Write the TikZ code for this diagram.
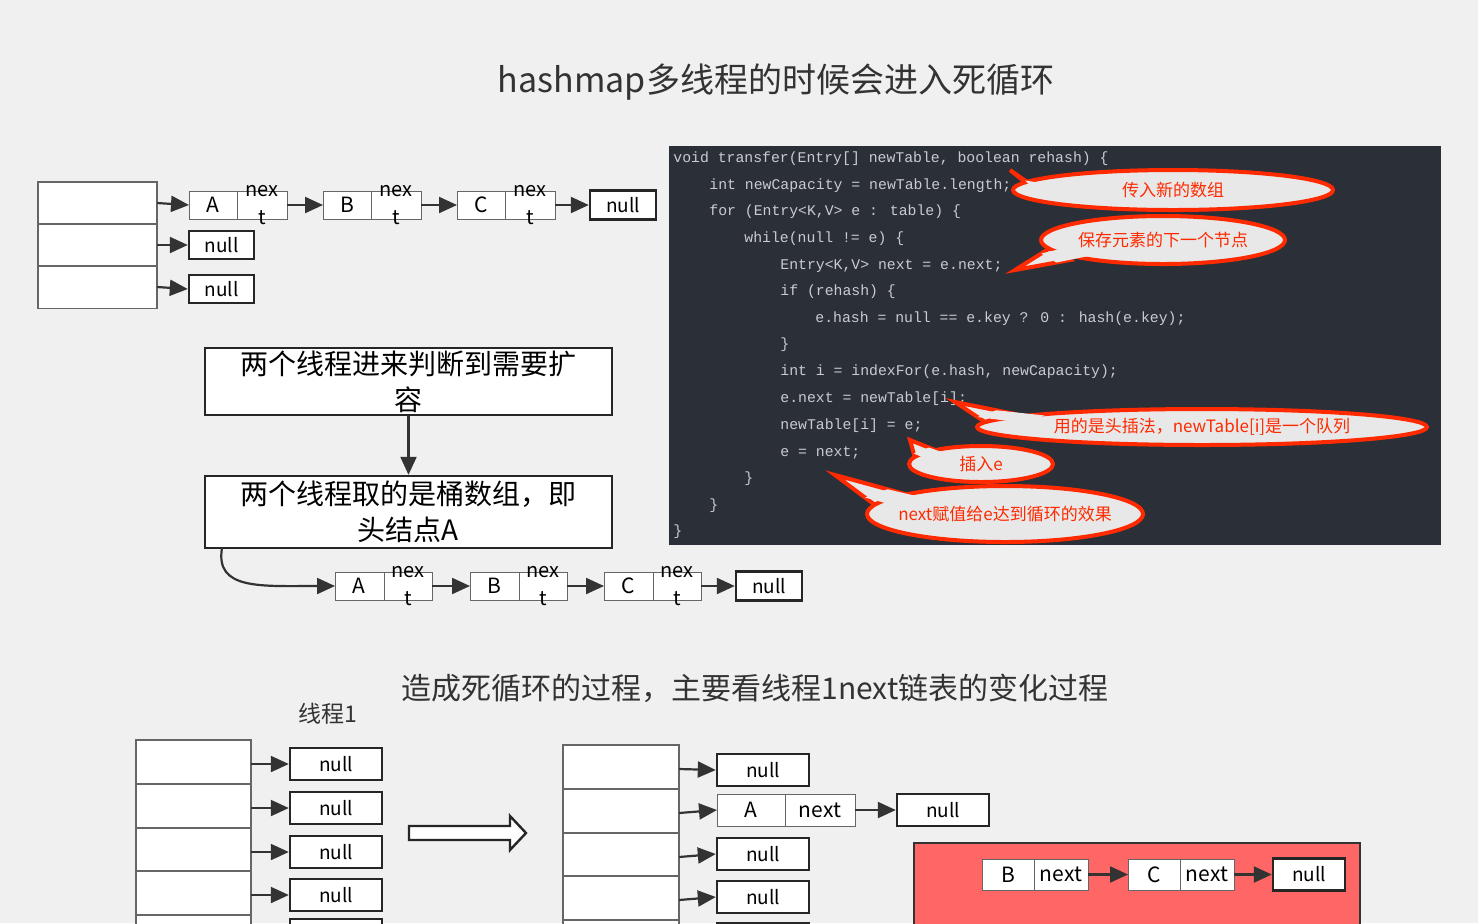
\documentclass[tikz,border=0pt]{standalone}
\usepackage{fontspec}
\setmainfont{Noto Sans CJK SC}
\newfontfamily\codefont{Liberation Mono}
\usetikzlibrary{arrows.meta,calc}
\definecolor{bg}{HTML}{F0F0F0}
\definecolor{codebg}{HTML}{2B2F38}
\definecolor{codefg}{HTML}{C9CBCF}
\definecolor{callred}{HTML}{FF2A00}
\definecolor{callfill}{HTML}{E8E8E8}
\definecolor{redbox}{HTML}{FF6666}
\newcommand\mycallout[8]{%
 \draw[callout] (#4,#5) -- (#6) -- (#7) -- cycle;
 \draw[callout] (#1) ellipse [x radius=#2,y radius=#3];
 \fill[callfill] ($(#6)!0.25!(#4,#5)$) -- ($(#6)!0.18!(#1)$) -- ($(#7)!0.18!(#1)$) -- ($(#7)!0.25!(#4,#5)$) -- cycle;
 \node[ctext] at (#1) {#8};}
\begin{document}
\begin{tikzpicture}[x=0.5pt,y=-0.5pt,
  tbl/.style={draw=gray!80!black,fill=white,line width=0.6pt},
  nullbox/.style={draw=black!85,fill=white,line width=1.2pt,font=\fontsize{9.5}{10}\selectfont,inner sep=0pt},
  ebox/.style={draw=gray!80!black,fill=white,line width=0.5pt},
  lbl/.style={font=\fontsize{10.5}{11}\selectfont,inner sep=0pt},
  arr/.style={-{Triangle[length=9pt,width=8pt]},line width=1.1pt,draw=black!80},
  code/.style={anchor=west,text=codefg,font=\codefont\fontsize{7.4}{8}\selectfont,inner sep=0pt},
  callout/.style={fill=callfill,draw=callred,line width=2pt},
  ctext/.style={text=callred,font=\fontsize{8.5}{9}\selectfont}]
\useasboundingbox (0,0) rectangle (1478,923);
\fill[bg] (0,0) rectangle (1478,923);
\node[font=\fontsize{17}{18}\selectfont,text=black!80] (title) at (776,82) {hashmap多线程的时候会进入死循环};
% top-left table
\foreach \i/\y in {1/182,2/224,3/266}{\draw[tbl] (38,\y) rectangle (157,\y+42.5); \coordinate (t\i) at (157,\y+21);}
\foreach \n/\x in {A/189,B/323,C/457}{
  \draw[ebox] (\x,191) rectangle (\x+98,219); \draw[ebox] (\x+48,191)--(\x+48,219);
  \node[lbl] (n\n) at (\x+24,205) {\n};
  \node[lbl,align=center,font=\fontsize{10}{14}\selectfont] (x\n) at (\x+73,205) {nex\\t};
  \coordinate (l\n) at (\x,205); \coordinate (r\n) at (\x+98,205);}
\node[nullbox,minimum width=33pt,minimum height=14.5pt] (null1) at (623,205) {null};
\draw[arr] (t1) -- (lA); \draw[arr] (rA)--(lB); \draw[arr] (rB)--(lC); \draw[arr] (rC)--(null1.west);
\node[nullbox,minimum width=32.5pt,minimum height=14pt] (null2) at (221.5,245) {null};
\node[nullbox,minimum width=32.5pt,minimum height=14pt] (null3) at (221.5,289) {null};
\draw[arr] (t2)--(null2.west); \draw[arr] (t3)--(null3.west);
% flow boxes
\node[draw=black!85,line width=1.2pt,fill=white,minimum width=203.5pt,minimum height=33.5pt,inner sep=0pt] (box1) at (408.5,381.5) {};
\node[font=\fontsize{14}{18}\selectfont,align=center,inner sep=0pt] (box1t) at (408.5,381.5) {两个线程进来判断到需要扩\\容};
\node[draw=black!85,line width=1.2pt,fill=white,minimum width=203.5pt,minimum height=36pt,inner sep=0pt] (box2) at (408.5,512) {};
\node[font=\fontsize{14}{18}\selectfont,align=center,inner sep=0pt] (box2t) at (408.5,512) {两个线程取的是桶数组，即\\头结点A};
\draw[arr] (box1.south) -- (box2.north);
% chain row 2
\foreach \n/\x in {A/335,B/470,C/604}{
  \draw[ebox] (\x,572) rectangle (\x+97,600); \draw[ebox] (\x+49,572)--(\x+49,600);
  \node[lbl] (m\n) at (\x+24,586) {\n};
  \node[lbl,align=center,font=\fontsize{10}{14}\selectfont] (y\n) at (\x+73,586) {nex\\t};
  \coordinate (p\n) at (\x,586); \coordinate (q\n) at (\x+97,586);}
\node[nullbox,minimum width=33pt,minimum height=14.5pt] (null4) at (769,586) {null};
\draw[arr] (222,548) .. controls (215,590) and (260,586) .. (pA);
\draw[arr] (qA)--(pB); \draw[arr] (qB)--(pC); \draw[arr] (qC)--(null4.west);
% code panel
\fill[codebg] (669,146) rectangle (1441,545);
\foreach \y/\x/\t in {159/673/{void transfer(Entry[] newTable, boolean rehash) \{},
 186/709/{int newCapacity = newTable.length;},
 212/709/{for (Entry<K,V> e : table) \{},
 239/744/{while(null != e) \{},
 266/780/{Entry<K,V> next = e.next;},
 292/780/{if (rehash) \{},
 319/815/{e.hash = null == e.key ? 0 : hash(e.key);},
 345/780/{\}},
 372/780/{int i = indexFor(e.hash, newCapacity);},
 399/780/{e.next = newTable[i];},
 426/780/{newTable[i] = e;},
 453/780/{e = next;},
 479/744/{\}},
 506/709/{\}},
 532/673/{\}}}
 {\node[code] at (\x,\y) {\t};}
\mycallout{1173,190}{160}{20}{1010}{170}{1030,184}{1045,198}{传入新的数组}
\mycallout{1163,240}{122}{24}{1015}{270}{1050,248}{1070,260}{保存元素的下一个节点}
\mycallout{1202,427}{225}{18}{955}{402}{985,422}{1010,413}{用的是头插法，newTable[i]是一个队列}
\mycallout{981,464}{72}{18}{910}{440}{915,458}{935,450}{插入e}
\mycallout{1005,514}{138}{28}{835}{475}{875,505}{905,494}{next赋值给e达到循环的效果}
% bottom
\node[font=\fontsize{15}{16}\selectfont,text=black!80] (title2) at (755,688) {造成死循环的过程，主要看线程1next链表的变化过程};
\node[font=\fontsize{11.5}{12}\selectfont,text=black!80] (thr) at (328,714) {线程1};
\foreach \i/\y in {1/740,2/784,3/828,4/871}{
  \draw[tbl] (136,\y) rectangle (251,\y+43.5); \coordinate (u\i) at (251,\y+24);
  \node[nullbox,minimum width=46pt,minimum height=16pt] (ln\i) at (336,\y+24) {null};
  \draw[arr] (u\i)--(ln\i.west);}
\draw[tbl] (136,915) rectangle (251,960);
\draw[nullbox] (290,919) rectangle (382,960);
\draw[line width=1.2pt,draw=black!85,fill=white] (409,826)--(510,826)--(510,816)--(526,833)--(510,850)--(510,840)--(409,840)--cycle;
\foreach \i/\y in {1/745,2/789,3/833,4/876}{
  \draw[tbl] (563,\y) rectangle (679,\y+43.5); \coordinate (v\i) at (679,\y+24);}
\draw[tbl] (563,920) rectangle (679,960);
\draw[nullbox] (717,923) rectangle (809,960);
\foreach \i/\y in {1/770,3/854,4/897}{
  \node[nullbox,minimum width=46pt,minimum height=16pt] (rn\i) at (763,\y) {null};
  \draw[arr] (v\i)--(rn\i.west);}
\draw[ebox] (717,794) rectangle (855,826); \draw[ebox] (785,794)--(785,826);
\node[lbl] (a2) at (751,810) {A}; \node[lbl] (an) at (820,810) {next};
\coordinate (al) at (717,810); \coordinate (ar) at (855,810);
\draw[arr] (v2)--(al);
\node[nullbox,minimum width=46pt,minimum height=16pt] (an2) at (943,810) {null};
\draw[arr] (ar)--(an2.west);
\draw[fill=redbox,draw=black!80,line width=1.2pt] (914,843) rectangle (1360,930);
\foreach \n/\x in {B/982,C/1128}{
  \draw[ebox] (\x,859) rectangle (\x+106,890); \draw[ebox] (\x+52,859)--(\x+52,890);
  \node[lbl] (k\n) at (\x+26,874.5) {\n}; \node[lbl] (kn\n) at (\x+79,874.5) {next};
  \coordinate (kl\n) at (\x,874.5); \coordinate (kr\n) at (\x+106,874.5);}
\node[nullbox,minimum width=36pt,minimum height=16pt] (kn) at (1309,874.5) {null};
\draw[arr] (krB)--(klC); \draw[arr] (krC)--(kn.west);
\end{tikzpicture}
\end{document}
